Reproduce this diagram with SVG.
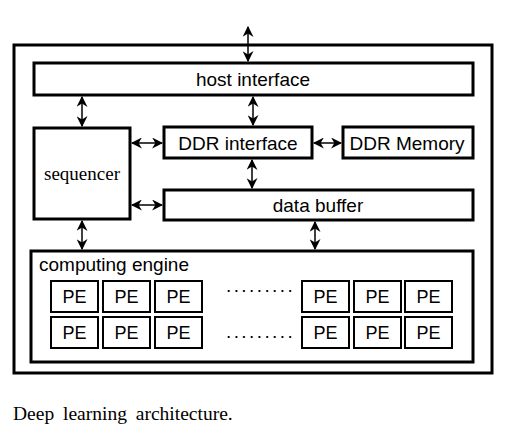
<svg xmlns="http://www.w3.org/2000/svg" width="508" height="435" viewBox="0 0 508 435">
<style>
.box{fill:#fff;stroke:#000;stroke-width:3}
.pe{fill:#fff;stroke:#000;stroke-width:2}
.lbl{font-family:"Liberation Sans",Arial,sans-serif;font-size:19px;fill:#000}
.pet{font-family:"Liberation Sans",Arial,sans-serif;font-size:18px;fill:#000;text-anchor:middle}
.ser{font-family:"Liberation Serif","Times New Roman",serif;fill:#000}
.ar{stroke:#000;stroke-width:1.5;fill:none;marker-start:url(#ah);marker-end:url(#ah)}
</style>
<defs>
<marker id="ah" viewBox="0 0 10 10" refX="9" refY="5" markerWidth="11" markerHeight="11" markerUnits="userSpaceOnUse" orient="auto-start-reverse">
<path d="M0,0 L10,5 L0,10 L3,5 z" fill="#000"/>
</marker>
</defs>
<rect id="outer" x="14" y="45" width="478" height="328" fill="#fff" stroke="#000" stroke-width="3"/>
<g id="host"><rect class="box" x="34" y="63" width="439" height="32"/><text class="lbl" x="253" y="86" text-anchor="middle">host interface</text></g>
<g id="sequencer"><rect class="box" x="34" y="128" width="96" height="91"/><text class="ser" x="82" y="180" font-size="19" text-anchor="middle">sequencer</text></g>
<g id="ddrif"><rect class="box" x="164" y="127" width="148" height="31"/><text class="lbl" x="238" y="150" text-anchor="middle">DDR interface</text></g>
<g id="ddrmem"><rect class="box" x="343" y="127" width="130" height="31"/><text class="lbl" x="407" y="150" text-anchor="middle">DDR Memory</text></g>
<g id="databuf"><rect class="box" x="164" y="190" width="309" height="30"/><text class="lbl" x="318" y="212" text-anchor="middle">data buffer</text></g>
<g id="engine"><rect class="box" x="31" y="251" width="442" height="111"/><text class="lbl" x="39" y="271">computing engine</text>
<rect class="pe" x="51" y="281" width="47" height="31"/><text class="pet" x="74.5" y="303">PE</text>
<rect class="pe" x="103" y="281" width="47" height="31"/><text class="pet" x="126.5" y="303">PE</text>
<rect class="pe" x="155" y="281" width="47" height="31"/><text class="pet" x="178.5" y="303">PE</text>
<rect class="pe" x="302" y="281" width="47" height="31"/><text class="pet" x="325.5" y="303">PE</text>
<rect class="pe" x="354" y="281" width="47" height="31"/><text class="pet" x="377.5" y="303">PE</text>
<rect class="pe" x="405" y="281" width="47" height="31"/><text class="pet" x="428.5" y="303">PE</text>
<rect class="pe" x="51" y="317" width="47" height="31"/><text class="pet" x="74.5" y="339">PE</text>
<rect class="pe" x="103" y="317" width="47" height="31"/><text class="pet" x="126.5" y="339">PE</text>
<rect class="pe" x="155" y="317" width="47" height="31"/><text class="pet" x="178.5" y="339">PE</text>
<rect class="pe" x="302" y="317" width="47" height="31"/><text class="pet" x="325.5" y="339">PE</text>
<rect class="pe" x="354" y="317" width="47" height="31"/><text class="pet" x="377.5" y="339">PE</text>
<rect class="pe" x="405" y="317" width="47" height="31"/><text class="pet" x="428.5" y="339">PE</text>
<text class="lbl" x="226" y="292" font-size="14" letter-spacing="2.4">.........</text>
<text class="lbl" x="226" y="338" font-size="14" letter-spacing="2.4">.........</text>
</g>
<g id="connectors">
<line class="ar" x1="248" y1="27" x2="248" y2="61"/>
<line class="ar" x1="82" y1="97" x2="82" y2="126"/>
<line class="ar" x1="253" y1="97" x2="253" y2="125"/>
<line class="ar" x1="132" y1="143" x2="162" y2="143"/>
<line class="ar" x1="314" y1="143" x2="341" y2="143"/>
<line class="ar" x1="252" y1="160" x2="252" y2="188"/>
<line class="ar" x1="132" y1="205" x2="162" y2="205"/>
<line class="ar" x1="82" y1="221" x2="82" y2="249"/>
<line class="ar" x1="315" y1="222" x2="315" y2="249"/>
</g>
<text class="ser" x="13" y="420" font-size="19.5" word-spacing="4">Deep learning architecture.</text>
</svg>
